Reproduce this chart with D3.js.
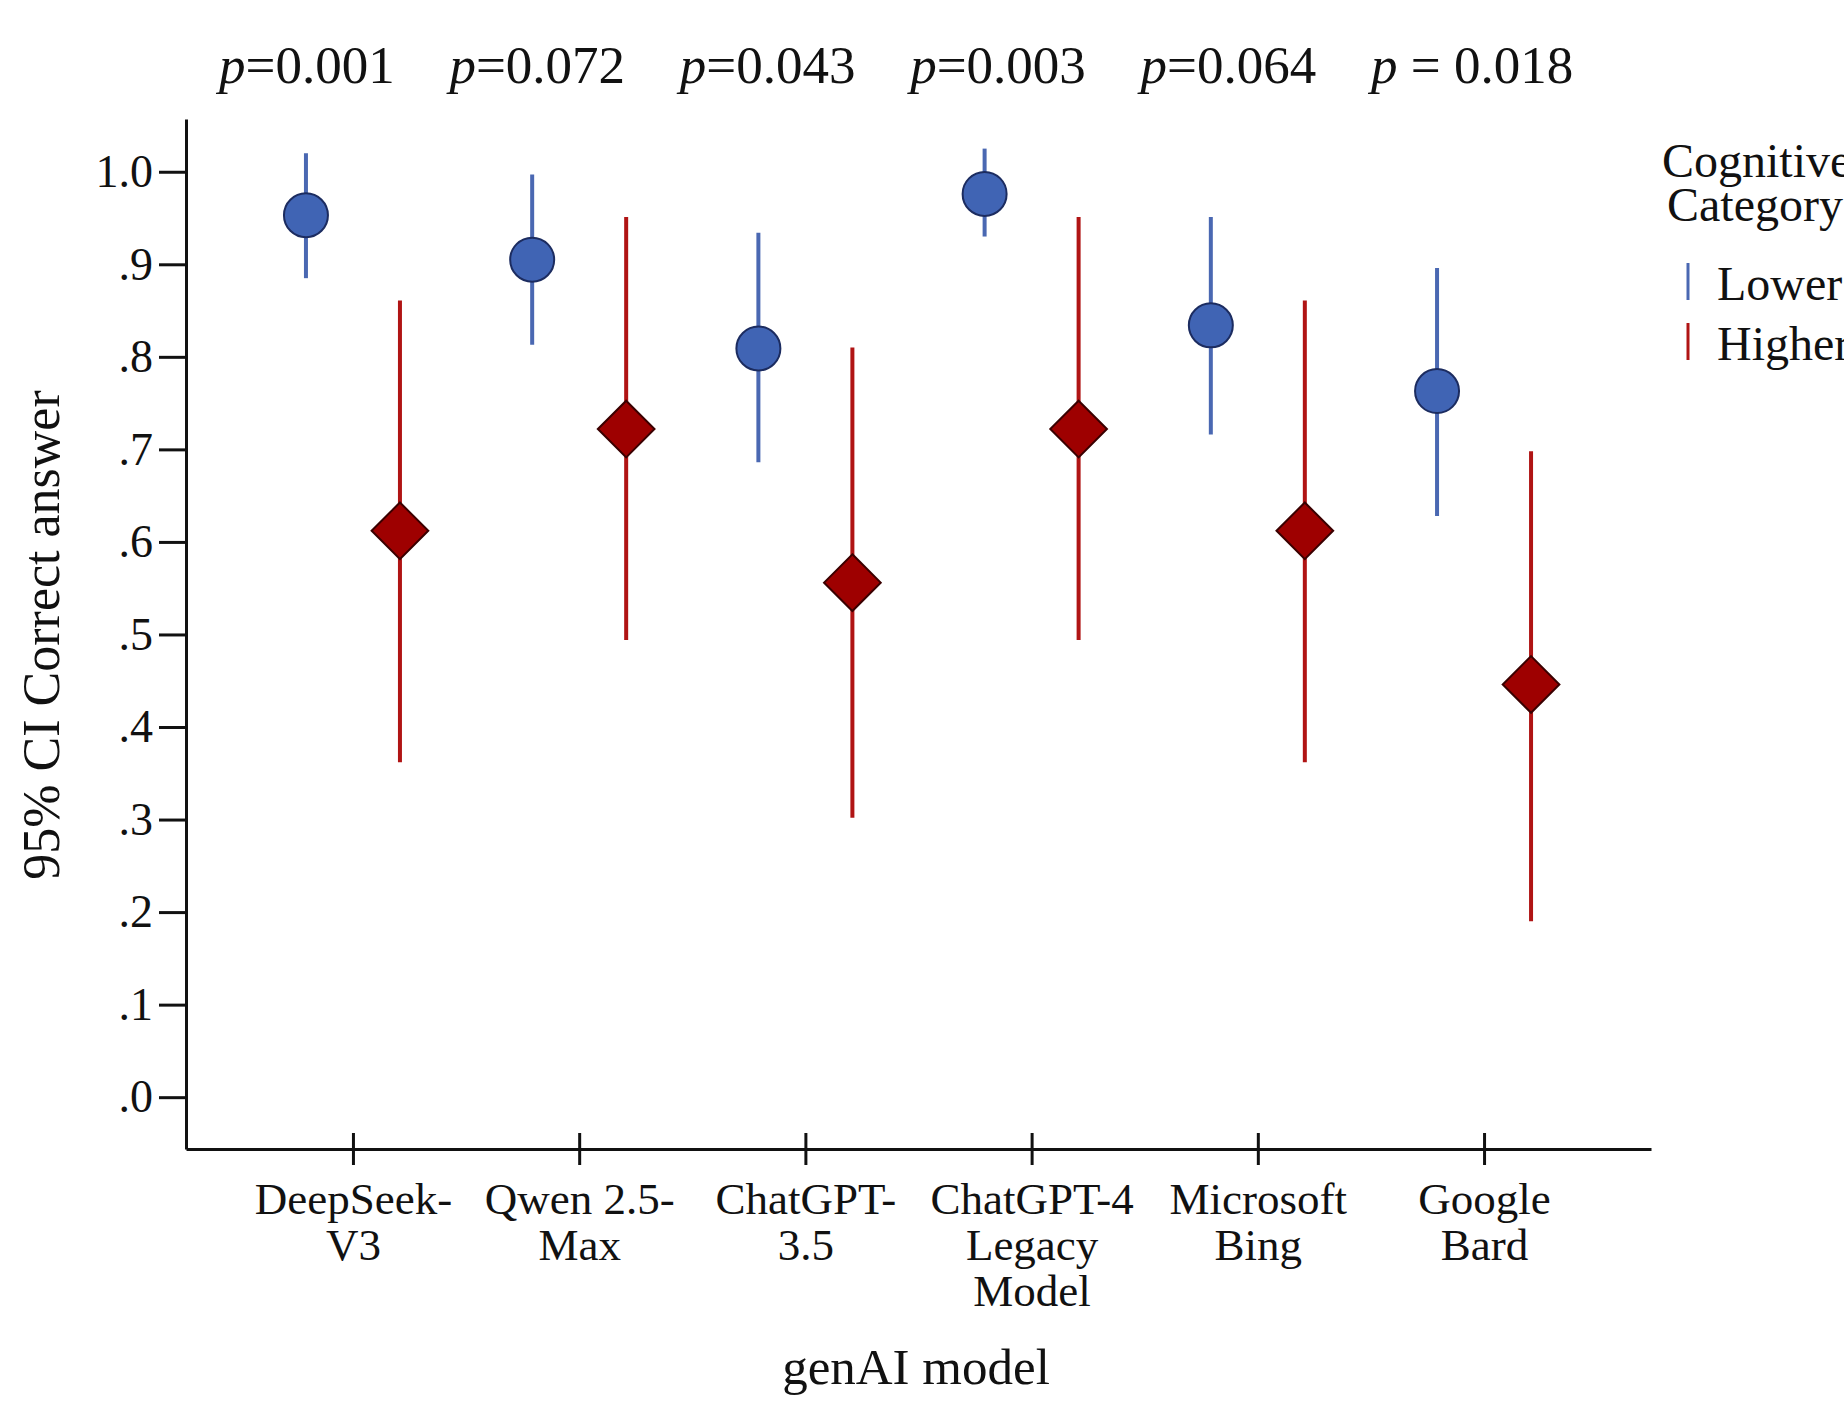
<!DOCTYPE html>
<html>
<head>
<meta charset="utf-8">
<script src="https://cdn.jsdelivr.net/npm/d3@7"></script>
<style>
  html, body { margin: 0; padding: 0; background: #fff; overflow: hidden; }
  svg { display: block; font-family: "Liberation Serif", "DejaVu Serif", serif; }
</style>
</head>
<body>
<div id="chart"></div>
<script>
// genAI models on the x axis
const categories = ["DeepSeek-V3", "Qwen 2.5-Max", "ChatGPT-3.5", "ChatGPT-4 Legacy Model", "Microsoft Bing", "Google Bard"];
const categoryLines = [["DeepSeek-", "V3"], ["Qwen 2.5-", "Max"], ["ChatGPT-", "3.5"], ["ChatGPT-4", "Legacy", "Model"], ["Microsoft", "Bing"], ["Google", "Bard"]];

// Lower cognitive category: mean and 95% CI
const lowerMean = [0.953, 0.905, 0.809, 0.976, 0.834, 0.763];
const lowerLo   = [0.885, 0.813, 0.686, 0.930, 0.716, 0.628];
const lowerHi   = [1.020, 0.997, 0.934, 1.025, 0.951, 0.896];

// Higher cognitive category: mean and 95% CI
const higherMean = [0.612, 0.722, 0.556, 0.722, 0.612, 0.446];
const higherLo   = [0.362, 0.494, 0.302, 0.494, 0.362, 0.190];
const higherHi   = [0.861, 0.951, 0.810, 0.951, 0.861, 0.698];

const pValues = ["=0.001", "=0.072", "=0.043", "=0.003", "=0.064", " = 0.018"];
const yTicks = [0, 0.1, 0.2, 0.3, 0.4, 0.5, 0.6, 0.7, 0.8, 0.9, 1.0];
const groups = ["Lower", "Higher"];

const width = 1844, height = 1424;
const blueLine = "#4a68b2", blueFill = "#4064b4", blueStroke = "#1c2c60";
const redLine = "#b01414", redFill = "#9e0000", redStroke = "#3a0000";

const svg = d3.select("#chart")
    .append("svg")
    .attr("width", width)
    .attr("height", height);

svg.append("rect").attr("width", width).attr("height", height).attr("fill", "#fff");

const x = d3.scalePoint()
    .domain(categories)
    .range([186, 1651])
    .padding(0.738);

const offset = d3.scalePoint()
    .domain(groups)
    .range([-47, 47]);

const y = d3.scaleLinear()
    .domain([-0.056, 1.057])
    .range([1149, 119]);

// y axis
const yAxis = svg.append("g")
    .attr("transform", "translate(186,0)")
    .call(d3.axisLeft(y)
        .tickValues(yTicks)
        .tickSize(27)
        .tickSizeOuter(0)
        .tickPadding(6)
        .tickFormat(d => d === 1 ? "1.0" : d3.format(".1f")(d).replace(/^0/, "")));

yAxis.select(".domain").attr("stroke", "#111").attr("stroke-width", 3);
yAxis.selectAll(".tick line").attr("stroke", "#111").attr("stroke-width", 3);
yAxis.selectAll(".tick text")
    .attr("font-family", "Liberation Serif, serif")
    .attr("font-size", 46)
    .attr("fill", "#111");

// x axis, ticks cross the line
const xAxis = svg.append("g")
    .attr("transform", "translate(0,1149)")
    .call(d3.axisBottom(x).tickSize(16).tickSizeOuter(0).tickFormat(""));

xAxis.select(".domain").attr("stroke", "#111").attr("stroke-width", 3);
xAxis.selectAll(".tick line")
    .attr("y1", -16)
    .attr("y2", 16)
    .attr("stroke", "#111")
    .attr("stroke-width", 3);

xAxis.selectAll(".tick").each(function(d, i) {
    const t = d3.select(this).append("text")
        .attr("text-anchor", "middle")
        .attr("font-family", "Liberation Serif, serif")
        .attr("font-size", 45)
        .attr("fill", "#111");
    categoryLines[i].forEach((line, j) => {
        t.append("tspan")
            .attr("x", 0)
            .attr("y", 65 + j * 46)
            .text(line);
    });
});

// axis titles
svg.append("text")
    .attr("x", 916)
    .attr("y", 1384)
    .attr("text-anchor", "middle")
    .attr("font-size", 51)
    .attr("fill", "#111")
    .text("genAI model");

svg.append("text")
    .attr("transform", "translate(59,635) rotate(-90)")
    .attr("text-anchor", "middle")
    .attr("font-size", 52)
    .attr("fill", "#111")
    .text("95% CI Correct answer");

// p values above each model
const pPos = d3.scalePoint()
    .domain(categories)
    .range([219, 1371]);

categories.forEach((c, i) => {
    const t = svg.append("text")
        .attr("x", pPos(c))
        .attr("y", 83)
        .attr("font-size", 53)
        .attr("fill", "#111")
        .attr("xml:space", "preserve");
    t.append("tspan").attr("font-style", "italic").text("p");
    t.append("tspan").text(pValues[i]);
});

// data rows
const lowerData = categories.map((c, i) => ({cat: c, mean: lowerMean[i], lo: lowerLo[i], hi: lowerHi[i]}));
const higherData = categories.map((c, i) => ({cat: c, mean: higherMean[i], lo: higherLo[i], hi: higherHi[i]}));

// error bars
svg.selectAll(".ci-lower")
    .data(lowerData)
    .join("line")
    .attr("class", "ci-lower")
    .attr("x1", d => x(d.cat) + offset("Lower"))
    .attr("x2", d => x(d.cat) + offset("Lower"))
    .attr("y1", d => y(d.lo))
    .attr("y2", d => y(d.hi))
    .attr("stroke", blueLine)
    .attr("stroke-width", 4);

svg.selectAll(".ci-higher")
    .data(higherData)
    .join("line")
    .attr("class", "ci-higher")
    .attr("x1", d => x(d.cat) + offset("Higher"))
    .attr("x2", d => x(d.cat) + offset("Higher"))
    .attr("y1", d => y(d.lo))
    .attr("y2", d => y(d.hi))
    .attr("stroke", redLine)
    .attr("stroke-width", 4);

// markers
svg.selectAll(".pt-lower")
    .data(lowerData)
    .join("circle")
    .attr("class", "pt-lower")
    .attr("cx", d => x(d.cat) + offset("Lower"))
    .attr("cy", d => y(d.mean))
    .attr("r", 22)
    .attr("fill", blueFill)
    .attr("stroke", blueStroke)
    .attr("stroke-width", 2);

const diamond = d3.symbol().type(d3.symbolDiamond2).size(2 * 32 * 32);

svg.selectAll(".pt-higher")
    .data(higherData)
    .join("path")
    .attr("class", "pt-higher")
    .attr("d", diamond)
    .attr("transform", d => `translate(${x(d.cat) + offset("Higher")},${y(d.mean)})`)
    .attr("fill", redFill)
    .attr("stroke", redStroke)
    .attr("stroke-width", 2);

// legend (runs past the right edge, as in the source)
const legend = svg.append("g");
legend.append("text").attr("x", 1662).attr("y", 177).attr("font-size", 48).attr("fill", "#111").text("Cognitive");
legend.append("text").attr("x", 1667).attr("y", 221).attr("font-size", 48).attr("fill", "#111").text("Category");

const legendColors = [blueLine, redLine];
groups.forEach((g, i) => {
    legend.append("line")
        .attr("x1", 1688).attr("x2", 1688)
        .attr("y1", 263 + i * 60).attr("y2", 300 + i * 60)
        .attr("stroke", legendColors[i])
        .attr("stroke-width", 3);
    legend.append("text")
        .attr("x", 1717)
        .attr("y", 300 + i * 60)
        .attr("font-size", 48)
        .attr("fill", "#111")
        .text(g);
});
</script>
</body>
</html>
